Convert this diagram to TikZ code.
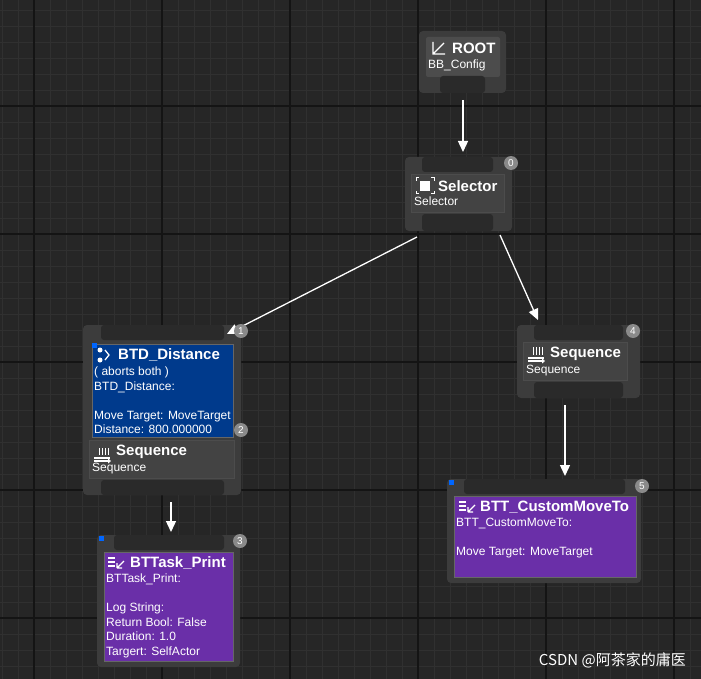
\documentclass[tikz,border=0pt]{standalone}
\usepackage{fontspec}
\setmainfont{Liberation Sans}
\newfontfamily\cjk{Noto Sans CJK SC}
\usetikzlibrary{arrows.meta}
\definecolor{bg}{HTML}{262626}
\definecolor{gmin}{HTML}{303030}
\definecolor{gmaj}{HTML}{141414}
\definecolor{outer}{HTML}{3C3C3C}
\definecolor{slot}{HTML}{2A2A2A}
\definecolor{inner}{HTML}{434343}
\definecolor{bluebox}{HTML}{003A8C}
\definecolor{purp}{HTML}{6A2FA8}
\definecolor{badge}{HTML}{8A8A8A}
\tikzset{
 outerbox/.style={fill=outer,rounded corners=4pt},
 slotbox/.style={fill=slot,rounded corners=3pt},
 innerbox/.style={fill=inner,draw=black!70,line width=0.6pt},
 title/.style={text=white,font=\bfseries\fontsize{15}{17}\selectfont,anchor=west,inner sep=0pt},
 sub/.style={text=white!85,font=\fontsize{12}{14.5}\selectfont,anchor=north west,inner sep=0pt,align=left},
 bdg/.style={circle,fill=badge,text=white!90,inner sep=0pt,minimum size=14pt,font=\fontsize{10}{10}\selectfont},
 arr/.style={draw=white!90,line width=1.3pt,-{Triangle[length=11pt,width=10pt]}},
 flag/.style={fill=blue!60!cyan,minimum size=5pt,inner sep=0pt}
}
\begin{document}
\begin{tikzpicture}[x=1pt,y=-1pt]
\useasboundingbox (0,0) rectangle (701,679);
\fill[bg] (0,0) rectangle (701,679);
\foreach \i in {2,18,...,700} \draw[gmin,line width=0.6pt] (\i,0) -- (\i,679);
\foreach \i in {10,26,...,679} \draw[gmin,line width=0.6pt] (0,\i) -- (701,\i);
\foreach \i in {34,162,290,418,546,674} \draw[gmaj,line width=1.2pt] (\i,0) -- (\i,679);
\foreach \i in {106,234,362,490,618} \draw[gmaj,line width=1.2pt] (0,\i) -- (701,\i);
% ROOT
\fill[outerbox] (419,31) rectangle (506,93);
\fill[fill=white!8!outer,rounded corners=2pt] (426,37) rectangle (500,77);
\fill[slotbox] (440,76) rectangle (485,93);
\node[title] (root) at (452,48) {ROOT};
\draw[white,line width=1.2pt] (433,42) -- (433,54) -- (445,54) (433,54) -- (444,43);
\node[sub] (rootsub) at (428,60) {BB\_Config};
\coordinate (rootb) at (463,100);
% Selector
\fill[outerbox] (405,157) rectangle (512,231);
\fill[slotbox] (422,157) rectangle (493,172);
\fill[slotbox] (422,214) rectangle (493,231);
\draw[innerbox] (411,174) rectangle (504,212);
\fill[white] (420,181) rectangle (430,191);
\draw[white,line width=1pt] (416,181)--(416,178)--(419,178) (431,178)--(434,178)--(434,181) (416,191)--(416,194)--(419,194) (431,194)--(434,194)--(434,191);
\node[title] (sel) at (438,186) {Selector};
\node[sub] at (414,197) {Selector};
\node[bdg] at (511,163) {0};
\coordinate (selt) at (463,152);
\coordinate (sell) at (417,237);
\coordinate (selr) at (500,235);
% BTD node
\fill[outerbox] (83,325) rectangle (241,495);
\fill[slotbox] (101,325) rectangle (224,340);
\fill[slotbox] (101,480) rectangle (224,495);
\fill[bluebox,draw=black!60] (92,344) rectangle (233,437);
\node[flag] at (94,345) {};
\fill[white] (100,350) circle (2.5pt) (100,360) circle (2.5pt);
\draw[white,line width=1.3pt] (105,350) -- (109,355) -- (105,360);
\node[title] (btd) at (118,355) {BTD\_Distance};
\node[sub] at (94,367) {( aborts both )\\BTD\_Distance:\\[14.5pt]Move Target: MoveTarget\\Distance: 800.000000};
\draw[innerbox] (89,440) rectangle (234,478);
\draw[white,line width=1.2pt] (94,458) -- (110,458);
\draw[white,line width=1.2pt,-{Triangle[length=3pt,width=5pt]}] (94,461) -- (111,461);
\foreach \xx in {99,102,105,108} \draw[white,line width=1pt] (\xx,448) -- (\xx,455);
\node[title] (seq1) at (116,452) {Sequence};
\node[sub] at (92,463) {Sequence};
\node[bdg] at (241,430) {2};
\coordinate (btdt) at (227,334);
\coordinate (btdb) at (171,502);
% Sequence right
\fill[outerbox] (517,325) rectangle (640,398);
\fill[slotbox] (534,325) rectangle (623,340);
\fill[slotbox] (534,382) rectangle (623,398);
\draw[innerbox] (523,342) rectangle (627,380);
\draw[white,line width=1.2pt] (528,358) -- (544,358);
\draw[white,line width=1.2pt,-{Triangle[length=3pt,width=5pt]}] (528,361) -- (545,361);
\foreach \xx in {533,536,539,542} \draw[white,line width=1pt] (\xx,347) -- (\xx,355);
\node[title] (seq2) at (550,354) {Sequence};
\node[sub] at (526,365) {Sequence};
\node[bdg] at (633,331) {4};
\coordinate (seqt) at (538,320);
\coordinate (seqb) at (565,405);
% BTT_CustomMoveTo
\fill[outerbox] (447,479) rectangle (641,583);
\fill[slotbox] (464,479) rectangle (625,494);
\fill[purp,draw=black!60] (454,496) rectangle (636,577);
\node[flag] at (451,482) {};
\foreach \yy in {502,506,510} \draw[white,line width=1.1pt] (459,\yy) -- (466,\yy);
\draw[white,line width=1.2pt] (468,512) -- (475,505) (468,512) -- (468,507) (468,512) -- (473,512);
\node[title] (btt) at (480,507) {BTT\_CustomMoveTo};
\node[sub] at (456,518) {BTT\_CustomMoveTo:\\[14.5pt]Move Target: MoveTarget};
\node[bdg] at (642,486) {5};
\coordinate (bttt) at (565,476);
% BTTask_Print
\fill[outerbox] (97,535) rectangle (240,667);
\fill[slotbox] (114,535) rectangle (224,550);
\fill[purp,draw=black!60] (104,552) rectangle (233,661);
\node[flag] at (101,538) {};
\foreach \yy in {558,562,566} \draw[white,line width=1.1pt] (108,\yy) -- (115,\yy);
\draw[white,line width=1.2pt] (117,568) -- (124,561) (117,568) -- (117,563) (117,568) -- (122,568);
\node[title] (prt) at (130,563) {BTTask\_Print};
\node[sub] at (106,574) {BTTask\_Print:\\[14.5pt]Log String:\\Return Bool: False\\Duration: 1.0\\Targert: SelfActor};
\node[bdg] at (240,541) {3};
\coordinate (prtt) at (171,532);
% arrows
\draw[arr] (rootb) -- (selt);
\draw[arr] (sell) -- (btdt);
\draw[arr] (selr) -- (seqt);
\draw[arr] (seqb) -- (bttt);
\draw[arr] (btdb) -- (prtt);
\node[bdg] at (241,331) {1};
\node[anchor=east,text=white!80,font=\cjk\fontsize{15}{17}\selectfont,inner sep=0pt] (wm) at (686,660) {CSDN @阿茶家的庸医};
\end{tikzpicture}
\end{document}
